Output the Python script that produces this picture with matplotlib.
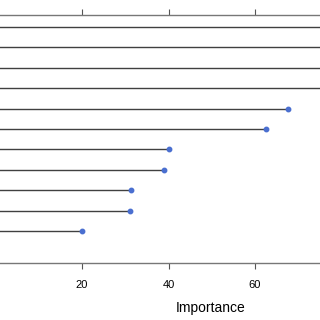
import matplotlib
matplotlib.use("Agg")
import matplotlib.pyplot as plt

# Variables ordered top to bottom (top four extend past the visible area)
variables = ["V1", "V2", "V3", "V4", "V5", "V6", "V7", "V8", "V9", "V10", "V11"]
importance = [100, 95, 90, 85, 67.6, 62.5, 40.2, 39.0, 31.4, 31.0, 20.1]
xticks = [20, 40, 60]

plt.rcParams['font.family'] = ['Liberation Sans', 'DejaVu Sans']

fig = plt.figure(figsize=(3.2, 3.2), dpi=100)
ax = fig.add_axes([0.0, 57/320, 1.0, (305-57)/320])

n = len(variables)
ypos = [n - 1 - i for i in range(n)]
ax.hlines(ypos, 0, importance, color="#404040", linewidth=1.0)
ax.plot(importance, ypos, "o", color="#4a6fd0", markersize=3.2, zorder=3)

ax.set_xlim(4.5/4.325, 324.5/4.325)
ax.set_ylim(-32/20.4, 10 + 12/20.4)
ax.set_yticks([])
ax.set_xticks(xticks)
ax.set_xticklabels([str(t) for t in xticks], fontsize=8)
ax.tick_params(axis='x', which='both', top=True, bottom=True, labeltop=False,
               direction='out', length=4, width=0.8, color='#555555', pad=8)
for s in ['left', 'right']:
    ax.spines[s].set_visible(False)
for s in ['top', 'bottom']:
    ax.spines[s].set_color('#777777')
    ax.spines[s].set_linewidth(1.0)
ax.set_xlabel("Importance", fontsize=10, labelpad=8)
ax.xaxis.label.set_position((211/320, 0))

fig.savefig("out.png", dpi=100)
